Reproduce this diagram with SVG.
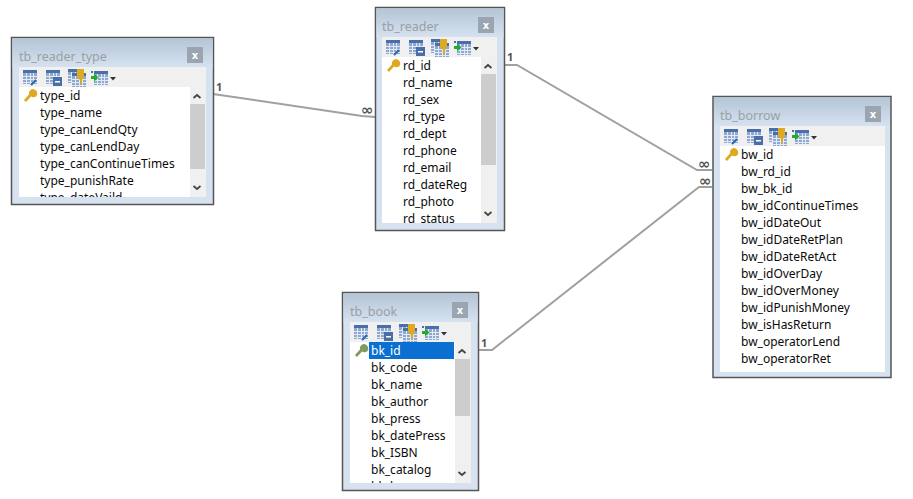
<svg xmlns="http://www.w3.org/2000/svg" width="913" height="499" viewBox="0 0 913 499">
<style>
.panel{fill:#d6e2f0;stroke:#555;stroke-width:1.5}
.title{font:12.500px "Noto Sans","DejaVu Sans",sans-serif;fill:#9b9fa5}
.tbar{fill:#f0f0f0}
.list{fill:#fff}
.track{fill:#f0f0f0}
.thumb{fill:#cdcdcd}
.close{fill:#9aa5b1}
.x{font:bold 10px "DejaVu Sans",sans-serif;fill:#fff;text-anchor:middle}
.f{font:12px "Noto Sans","DejaVu Sans",sans-serif;fill:#0a0a0a}
.sel{fill:#fff}
.conn{fill:none;stroke:#a0a0a0;stroke-width:2}
.lab{font:bold 11px "Noto Sans","DejaVu Sans",sans-serif;fill:#555}
.inf{font:bold 15px "DejaVu Sans",sans-serif;fill:#555}
.chev{fill:none;stroke:#444;stroke-width:1.800}
</style>
<defs>
<linearGradient id="hd" x1="0" y1="0" x2="0" y2="1"><stop offset="0" stop-color="#b4c5d6"/><stop offset="1" stop-color="#d6e2f0"/></linearGradient>
<g id="grid"><rect x="0" y="0" width="14" height="14" fill="#8fa8cf"/><rect x="0" y="0" width="14" height="3" fill="#4a6fa8"/><path d="M0 6.500H14M0 9.500H14M0 12.500H14M3.500 3V14M7.500 3V14M10.500 3V14" stroke="#e4eaf3" stroke-width="1"/></g>
<g id="toolbar">
<use href="#grid" x="4" y="3"/><path d="M12 18l5-5" stroke="#2a66b0" stroke-width="2.200"/>
<use href="#grid" x="27" y="3"/><rect x="34" y="10" width="9" height="9" fill="#4a6fa8"/><rect x="36" y="14" width="5" height="1.500" fill="#fff"/>
<use href="#grid" x="49" y="2"/><use href="#grid" x="53" y="6"/><path d="M58 2h7v8l-2 3v4h-2v-4l-3-3z" fill="#e0aa20"/>
<use href="#grid" x="75" y="4"/><path d="M72 9h3v-2.500l4.500 4-4.500 4v-2.500h-3z" fill="#22aa33"/><rect x="72" y="4" width="2" height="2" fill="#4a6fa8"/>
<path d="M91 10h6l-3 3.500z" fill="#333"/>
</g>
<path id="key" d="M9 0.500a4.500 4.500 0 0 1 3.500 7a4.500 4.500 0 0 1-5.500 0.500l-5 5.500l-2-2l5-5.500a4.500 4.500 0 0 1 4-5.500z" fill="#e0a820"/>
<clipPath id="c1"><rect x="19" y="87" width="171" height="110"/></clipPath>
<clipPath id="c2"><rect x="382" y="57" width="99" height="166"/></clipPath>
<clipPath id="c3"><rect x="350" y="342" width="105" height="141"/></clipPath>
</defs>

<g id="connectors">
<path class="conn" d="M213 94L362 116L375 117"/>
<path class="conn" d="M505 65L517 65L697 170L712 170"/>
<path class="conn" d="M478 350L492 350L699 187L712 187"/>
<text class="lab" x="216" y="91">1</text>
<text class="inf" x="361" y="115">∞</text>
<text class="lab" x="507" y="61">1</text>
<text class="inf" x="698" y="169">∞</text>
<text class="lab" x="481" y="347">1</text>
<text class="inf" x="699" y="186">∞</text>
</g>

<g id="tb_reader_type">
<rect class="panel" x="11.500" y="37.500" width="202" height="167"/>
<rect x="12.500" y="38.500" width="200" height="29" fill="url(#hd)"/>
<text class="title" x="19" y="61">tb_reader_type</text>
<rect class="close" x="187" y="47" width="16" height="16"/><text class="x" x="195" y="58.500">x</text>
<rect class="tbar" x="19" y="67" width="187" height="20"/>
<use href="#toolbar" x="19" y="67"/>
<rect class="list" x="19" y="87" width="171" height="110"/>
<rect class="track" x="190" y="87" width="16" height="110"/><rect class="thumb" x="190" y="104" width="15" height="65"/>
<path class="chev" d="M193.500 98l3.500-3 3.500 3M193.500 186l3.500 3 3.500-3"/>
<use href="#key" x="24" y="88.500"/>
<g clip-path="url(#c1)">
<text class="f" x="40" y="100">type_id</text>
<text class="f" x="40" y="117">type_name</text>
<text class="f" x="40" y="134">type_canLendQty</text>
<text class="f" x="40" y="151">type_canLendDay</text>
<text class="f" x="40" y="168">type_canContinueTimes</text>
<text class="f" x="40" y="185">type_punishRate</text>
<text class="f" x="40" y="202">type_dateVaild</text>
</g>
</g>

<g id="tb_reader">
<rect class="panel" x="375.500" y="7.500" width="129" height="223"/>
<rect x="376.500" y="8.500" width="127" height="29" fill="url(#hd)"/>
<text class="title" x="382" y="31">tb_reader</text>
<rect class="close" x="478" y="17" width="16" height="16"/><text class="x" x="486" y="28.500">x</text>
<rect class="tbar" x="382" y="37" width="115" height="20"/>
<use href="#toolbar" x="382" y="37"/>
<rect class="list" x="382" y="57" width="99" height="166"/>
<rect class="track" x="481" y="57" width="16" height="166"/><rect class="thumb" x="481" y="74" width="15" height="91"/>
<path class="chev" d="M484.500 68l3.500-3 3.500 3M484.500 212l3.500 3 3.500-3"/>
<use href="#key" x="387" y="58.500"/>
<g clip-path="url(#c2)">
<text class="f" x="403" y="70">rd_id</text>
<text class="f" x="403" y="87">rd_name</text>
<text class="f" x="403" y="104">rd_sex</text>
<text class="f" x="403" y="121">rd_type</text>
<text class="f" x="403" y="138">rd_dept</text>
<text class="f" x="403" y="155">rd_phone</text>
<text class="f" x="403" y="172">rd_email</text>
<text class="f" x="403" y="189">rd_dateReg</text>
<text class="f" x="403" y="206">rd_photo</text>
<text class="f" x="403" y="223">rd_status</text>
</g>
</g>

<g id="tb_book">
<rect class="panel" x="342.500" y="292.500" width="136" height="198"/>
<rect x="343.500" y="293.500" width="134" height="29" fill="url(#hd)"/>
<text class="title" x="350" y="316">tb_book</text>
<rect class="close" x="452" y="302" width="16" height="16"/><text class="x" x="460" y="313.500">x</text>
<rect class="tbar" x="350" y="322" width="121" height="20"/>
<use href="#toolbar" x="350" y="322"/>
<rect class="list" x="350" y="342" width="105" height="141"/>
<rect class="track" x="455" y="342" width="16" height="141"/><rect class="thumb" x="455" y="359" width="15" height="57"/>
<path class="chev" d="M458.500 353l3.500-3 3.500 3M458.500 472l3.500 3 3.500-3"/>
<path d="M364 344a4.500 4.500 0 0 1 3.500 7a4.500 4.500 0 0 1-5.500 0.500l-5 5.500l-2-2l5-5.500a4.500 4.500 0 0 1 4-5.500z" fill="#7f9a5c"/>
<rect x="369" y="342" width="85" height="17" fill="#0a6fd0"/>
<g clip-path="url(#c3)">
<text class="f sel" x="371" y="355">bk_id</text>
<text class="f" x="371" y="372">bk_code</text>
<text class="f" x="371" y="389">bk_name</text>
<text class="f" x="371" y="406">bk_author</text>
<text class="f" x="371" y="423">bk_press</text>
<text class="f" x="371" y="440">bk_datePress</text>
<text class="f" x="371" y="457">bk_ISBN</text>
<text class="f" x="371" y="474">bk_catalog</text>
<text class="f" x="371" y="491">bk_lang</text>
</g>
</g>

<g id="tb_borrow">
<rect class="panel" x="713" y="96.500" width="178" height="281"/>
<rect x="714" y="97.500" width="176" height="29" fill="url(#hd)"/>
<text class="title" x="720" y="120">tb_borrow</text>
<rect class="close" x="865" y="106" width="16" height="16"/><text class="x" x="873" y="117.500">x</text>
<rect class="tbar" x="720" y="126" width="165" height="20"/>
<use href="#toolbar" x="720" y="126"/>
<rect class="list" x="720" y="146" width="165" height="226"/>
<use href="#key" x="725" y="147.500"/>
<text class="f" x="741" y="159">bw_id</text>
<text class="f" x="741" y="176">bw_rd_id</text>
<text class="f" x="741" y="193">bw_bk_id</text>
<text class="f" x="741" y="210">bw_idContinueTimes</text>
<text class="f" x="741" y="227">bw_idDateOut</text>
<text class="f" x="741" y="244">bw_idDateRetPlan</text>
<text class="f" x="741" y="261">bw_idDateRetAct</text>
<text class="f" x="741" y="278">bw_idOverDay</text>
<text class="f" x="741" y="295">bw_idOverMoney</text>
<text class="f" x="741" y="312">bw_idPunishMoney</text>
<text class="f" x="741" y="329">bw_isHasReturn</text>
<text class="f" x="741" y="346">bw_operatorLend</text>
<text class="f" x="741" y="363">bw_operatorRet</text>
</g>
</svg>
